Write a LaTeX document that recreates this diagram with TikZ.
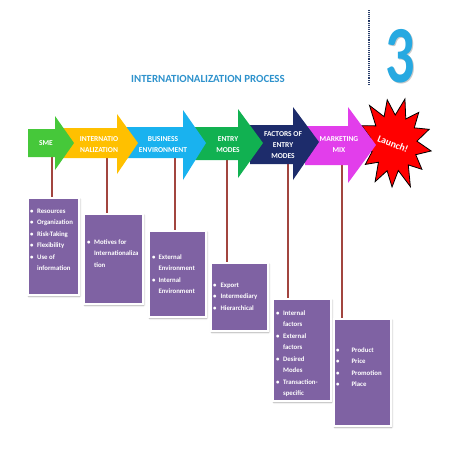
\documentclass[tikz,border=0pt]{standalone}
\usepackage{fontspec}
\setmainfont{Carlito}
\usetikzlibrary{shadows.blur}
\definecolor{smegreen}{HTML}{46C83A}
\definecolor{intyellow}{HTML}{FFC000}
\definecolor{busblue}{HTML}{19B2EF}
\definecolor{entrygreen}{HTML}{11B151}
\definecolor{navyc}{HTML}{1D2C6B}
\definecolor{magentac}{HTML}{E23EEB}
\definecolor{linered}{HTML}{A2453F}
\definecolor{boxpurple}{HTML}{7F62A3}
\definecolor{titleblue}{HTML}{2E92CC}
\definecolor{numblue}{HTML}{27A9E1}
\definecolor{dotnavy}{HTML}{2B3F6B}
\newcommand\procarrow[9]{%
  \fill[#9] (#1,#4) -- (#2,#4) -- (#2,#6) -- (#3,#8) -- (#2,#7) -- (#2,#5) -- (#1,#5) -- cycle;}
\tikzset{
  arrowtxt/.style={text=white, font=\fontsize{7.5}{11}\bfseries\selectfont, align=center, inner sep=0},
  pbox/.style={rectangle, fill=boxpurple, draw=white, line width=1.5pt, inner sep=0, anchor=north west,
    blur shadow={shadow xshift=1pt, shadow yshift=-1.5pt, shadow blur steps=6, shadow opacity=35}},
  boxtxt/.style={text=white, font=\fontsize{6.8}{11.5}\bfseries\selectfont, inner sep=0, anchor=base west},
  stem/.style={draw=linered, line width=1.5pt},
  starstyle/.style={fill=red, draw=black, line width=0.8pt, line join=miter}
}
\begin{document}
\begin{tikzpicture}[x=1pt,y=-1pt]
\useasboundingbox (0,0) rectangle (453,453);
% title and number
\node[text=titleblue, font=\fontsize{10.9}{13}\bfseries\selectfont, inner sep=0] (ttl) at (208,79) {INTERNATIONALIZATION PROCESS};
\coordinate (dtop) at (369,10);
\coordinate (dbot) at (369,85);
\draw[dotnavy, line width=1.3pt, dash pattern=on 1pt off 0.9pt] (dtop) -- (dbot);
\node[text=black!35, opacity=0.6, font=\fontsize{81}{81}\bfseries\selectfont, inner sep=0, xscale=0.72] (numsh) at (401.5,57.5) {3};
\node[text=numblue, font=\fontsize{81}{81}\bfseries\selectfont, inner sep=0, xscale=0.72] (num) at (400,56) {3};
% boxes
\node[pbox, minimum width=51pt, minimum height=97pt] (b1) at (27,197) {};
\node[pbox, minimum width=59pt, minimum height=90pt] (b2) at (83,213) {};
\node[pbox, minimum width=57pt, minimum height=86pt] (b3) at (148,230) {};
\node[pbox, minimum width=57pt, minimum height=68pt] (b4) at (210,262) {};
\node[pbox, minimum width=58pt, minimum height=102pt] (b5) at (272,298) {};
\node[pbox, minimum width=57pt, minimum height=107pt] (b6) at (333,318) {};
% stems
\coordinate (c1) at (52,150);
\coordinate (c2) at (107,150);
\coordinate (c3) at (175,150);
\coordinate (c4) at (227,150);
\coordinate (c5) at (288,150);
\coordinate (c6) at (342,150);
\draw[stem] (c1) -- (c1 |- b1.north);
\draw[stem] (c2) -- (c2 |- b2.north);
\draw[stem] (c3) -- (c3 |- b3.north);
\draw[stem] (c4) -- (c4 |- b4.north);
\draw[stem] (c5) -- (c5 |- b5.north);
\draw[stem] (c6) -- (c6 |- b6.north);
% star
\begin{scope}[shift={(394,143)}, xscale=0.82]
\draw[starstyle] (10:46) -- (23.8:29) -- (37.7:43) -- (51.5:28) -- (65.4:48) -- (79.2:28) -- (93.1:44) -- (106.9:29)
  -- (120.8:45) -- (134.6:27) -- (148.5:41) -- (162.3:28) -- (176.2:46) -- (190:29) -- (203.8:43) -- (217.7:28)
  -- (231.5:48) -- (245.4:29) -- (259.2:44) -- (273.1:28) -- (286.9:46) -- (300.8:28) -- (314.6:43) -- (328.5:29)
  -- (342.3:45) -- (356.2:28) -- cycle;
\end{scope}
\node[text=white, font=\fontsize{9.8}{10}\bfseries\selectfont, rotate=-22, inner sep=0] (lt) at (393,144) {Launch!};
% arrows (back to front)
\procarrow{305}{348}{376}{126}{165}{107}{183}{145}{magentac}
\procarrow{250}{293}{319}{125}{164}{107}{180}{142}{navyc}
\procarrow{195}{238}{263}{127}{160}{109}{178}{143}{entrygreen}
\procarrow{122}{183}{206}{127}{158}{110}{180}{143}{busblue}
\procarrow{60}{117}{138}{128}{158}{114}{174}{143}{intyellow}
\procarrow{28}{55}{74}{129}{157}{116}{170}{143}{smegreen}
% arrow labels
\node[arrowtxt] (t1) at (46,143) {SME};
\node[arrowtxt] (t2) at (99,144.5) {INTERNATIO\\NALIZATION};
\node[arrowtxt] (t3) at (163,145) {BUSINESS\\ENVIRONMENT};
\node[arrowtxt] (t4) at (228,145) {ENTRY\\MODES};
\node[arrowtxt] (t5) at (283,145.5) {FACTORS OF\\ENTRY\\MODES};
\node[arrowtxt] (t6) at (339,145) {MARKETING\\MIX};
% box texts
\node[boxtxt] (x1) at (30,213.3) {\begin{tabular}[t]{@{}l@{\hspace{3.5pt}}l@{}}
\textbullet & Resources\\ \textbullet & Organization\\ \textbullet & Risk-Taking\\ \textbullet & Flexibility\\ \textbullet & Use of\\ & information\end{tabular}};
\node[boxtxt] (x2) at (87,244.3) {\begin{tabular}[t]{@{}l@{\hspace{3.5pt}}l@{}}
\textbullet & Motives for\\ & Internationaliza\\ & tion\end{tabular}};
\node[boxtxt] (x3) at (152,259.3) {\begin{tabular}[t]{@{}l@{\hspace{3pt}}l@{}}
\textbullet & External\\ & Environment\\ \textbullet & Internal\\ & Environment\end{tabular}};
\node[boxtxt] (x4) at (213,287.3) {\begin{tabular}[t]{@{}l@{\hspace{4pt}}l@{}}
\textbullet & Export\\ \textbullet & Intermediary\\ \textbullet & Hierarchical\end{tabular}};
\node[boxtxt] (x5) at (276,315.3) {\begin{tabular}[t]{@{}l@{\hspace{3.5pt}}l@{}}
\textbullet & Internal\\ & factors\\ \textbullet & External\\ & factors\\ \textbullet & Desired\\ & Modes\\ \textbullet & Transaction-\\ & specific\end{tabular}};
\node[boxtxt] (x6) at (336,352.3) {\begin{tabular}[t]{@{}l@{\hspace{12pt}}l@{}}
\textbullet & Product\\ \textbullet & Price\\ \textbullet & Promotion\\ \textbullet & Place\end{tabular}};
\end{tikzpicture}
\end{document}
